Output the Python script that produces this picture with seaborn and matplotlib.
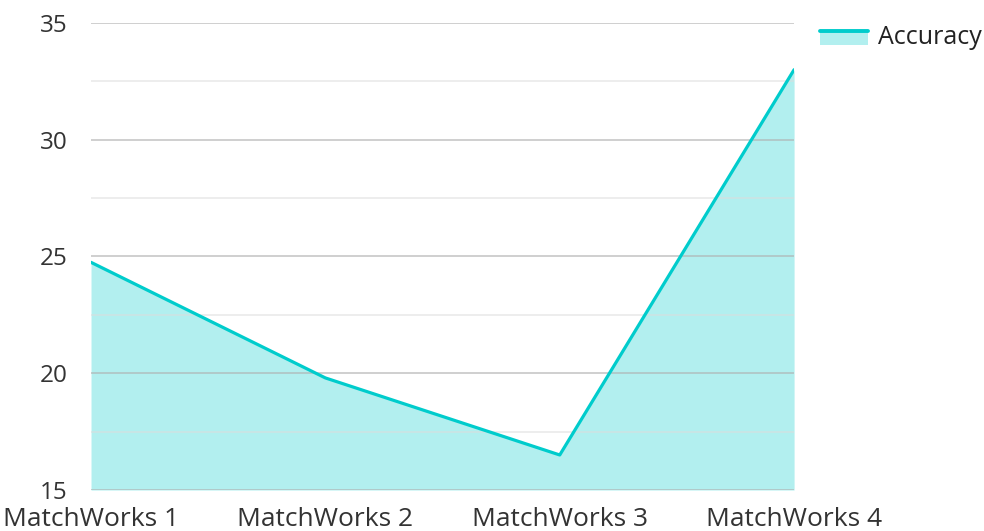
import matplotlib
matplotlib.use("Agg")
import matplotlib.pyplot as plt
import seaborn as sns
import pandas as pd
import numpy as np
from matplotlib.legend_handler import HandlerBase
from matplotlib.patches import Rectangle
from matplotlib.lines import Line2D

categories = ["MatchWorks 1", "MatchWorks 2", "MatchWorks 3", "MatchWorks 4"]
accuracy = [24.75, 19.8, 16.5, 33.0]
y_ticks = [15, 20, 25, 30, 35]

LINE = "#00cccc"
FILL = "#b2efef"

sns.set_theme(style="white")
plt.rcParams['font.family'] = ['Open Sans', 'DejaVu Sans']

df = pd.DataFrame({"x": np.arange(len(categories)), "Accuracy": accuracy})

fig = plt.figure(figsize=(9.84, 5.31), dpi=100)
ax = fig.add_axes([0.0925, 0.0772, 0.7145, 0.8795])

ax.fill_between(df["x"], 15, df["Accuracy"], color=FILL, linewidth=0, zorder=1)
sns.lineplot(data=df, x="x", y="Accuracy", ax=ax, color=LINE, linewidth=2.3, zorder=3, legend=False)

ax.set_xlim(0, len(categories) - 1)
ax.set_ylim(15, 35)
ax.set_yticks(y_ticks)
ax.set_yticks([17.5, 22.5, 27.5, 32.5], minor=True)
ax.set_xticks(df["x"])
ax.set_xticklabels(categories)
ax.grid(True, which="major", axis="y", color="#b0b0b0", linewidth=1.2, alpha=0.7, zorder=2)
ax.grid(True, which="minor", axis="y", color="#dcdcdc", linewidth=1.2, alpha=0.6, zorder=2)
ax.grid(False, axis="x")
ax.set_axisbelow(False)
for s in ax.spines.values():
    s.set_visible(False)
ax.tick_params(axis="x", which="both", length=0, labelsize=19, colors="#333333", pad=12)
ax.tick_params(axis="y", which="both", length=0, labelsize=17.5, colors="#333333", pad=17)
ax.set_xlabel("")
ax.set_ylabel("")


class AreaHandler(HandlerBase):
    def create_artists(self, legend, orig_handle, xdescent, ydescent, width, height, fontsize, trans):
        r = Rectangle((-xdescent, -ydescent), width, height * 0.72, facecolor=FILL, edgecolor="none", transform=trans)
        l = Line2D([-xdescent, -xdescent + width], [-ydescent + height * 0.75] * 2, color=LINE, linewidth=2.8, transform=trans)
        return [r, l]


handle = Rectangle((0, 0), 1, 1)
leg = fig.legend([handle], ["Accuracy"], handler_map={Rectangle: AreaHandler()},
                 loc="upper left", bbox_to_anchor=(0.833, 0.952), frameon=False,
                 fontsize=18, handlelength=1.95, handleheight=0.75, handletextpad=0.4,
                 borderaxespad=0, borderpad=0)
for t in leg.get_texts():
    t.set_color("#222222")

fig.savefig("out.png", dpi=100)
